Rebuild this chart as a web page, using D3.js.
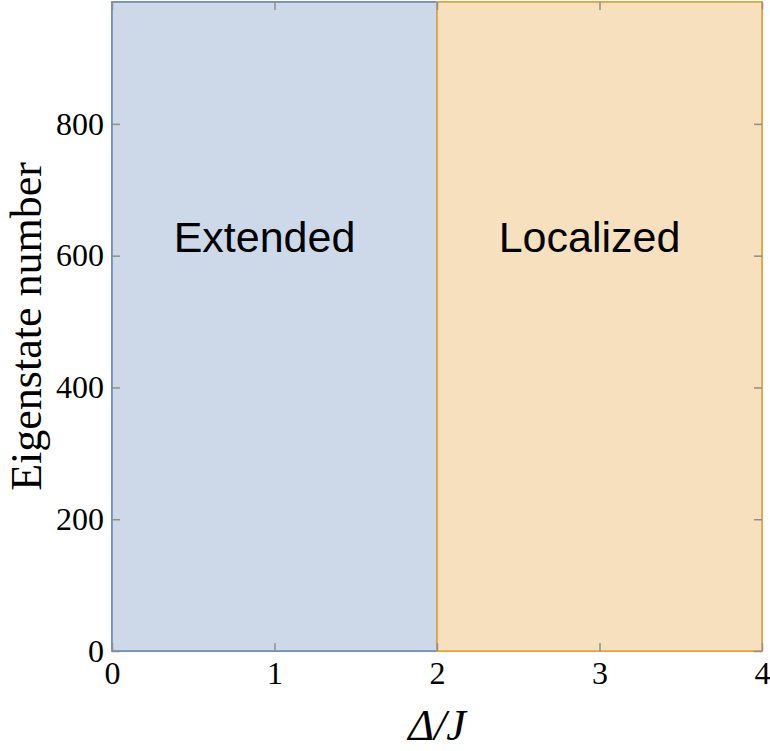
<!DOCTYPE html>
<html>
<head>
<meta charset="utf-8">
<script src="https://cdn.jsdelivr.net/npm/d3@7"></script>
<style>
  body { margin: 0; background: #fff; }
  .tick-label { font-family: "Liberation Serif", "Times New Roman", serif; font-size: 32px; }
</style>
</head>
<body>
<svg id="chart" width="770" height="751"></svg>
<script>
// data
var regionNames = ['Extended', 'Localized'];
var regionStart = [0, 2];
var regionEnd = [2, 4];
var eigenMax = 985;
var xTicks = [0, 1, 2, 3, 4];
var yTicks = [0, 200, 400, 600, 800];

var fills = ['#cdd9e9', '#f6e0bd'];
var strokes = ['#6a8bbd', '#e8a534'];

var margin = {top: 2, right: 8, bottom: 100, left: 112};
var W = 770, H = 751;
var w = W - margin.left - margin.right;
var h = H - margin.top - margin.bottom;

var svg = d3.select('#chart');
var g = svg.append('g').attr('transform', 'translate(' + margin.left + ',' + margin.top + ')');

var x = d3.scaleLinear().domain([0, 4]).range([0, w]);
var y = d3.scaleLinear().domain([0, eigenMax]).range([h, 0]);

// frame underneath
g.append('rect')
  .attr('width', w).attr('height', h)
  .attr('fill', 'none').attr('stroke', '#8a8a8a').attr('stroke-width', 1.5);

var regions = regionNames.map(function(n, i) {
  return {name: n, x0: regionStart[i], x1: regionEnd[i], i: i};
});

g.selectAll('.region')
  .data(regions)
  .enter()
  .append('rect')
    .classed('region', true)
    .attr('x', function(d) { return x(d.x0); })
    .attr('y', y(eigenMax))
    .attr('width', function(d) { return x(d.x1) - x(d.x0); })
    .attr('height', y(0) - y(eigenMax))
    .attr('fill', function(d) { return fills[d.i]; })
    .attr('stroke', function(d) { return strokes[d.i]; })
    .attr('stroke-width', 1.6);

// labels sit a little left of each region's middle, as in the original
g.selectAll('.region-label')
  .data(regions)
  .enter()
  .append('text')
    .attr('x', function(d) { return x((d.x0 + d.x1) / 2) - 10; })
    .attr('y', 250)
    .attr('text-anchor', 'middle')
    .style('font-family', '"Liberation Sans", Arial, sans-serif')
    .style('font-size', '43px')
    .attr('fill', '#000')
    .text(function(d) { return d.name; });

// axes: ticks inside the frame on all four sides
var tickLen = 8;
var tickStyle = function(sel) {
  sel.select('.domain').remove();
  sel.selectAll('.tick line').attr('stroke', '#8f8f8f').attr('stroke-width', 1.5);
};

g.append('g')
  .attr('transform', 'translate(0,' + h + ')')
  .call(d3.axisBottom(x).tickValues(xTicks).tickSizeInner(-tickLen).tickSizeOuter(0).tickPadding(10).tickFormat(d3.format('d')))
  .call(tickStyle)
  .selectAll('text').attr('class', 'tick-label').attr('fill', '#000');

g.append('g')
  .call(d3.axisTop(x).tickValues(xTicks).tickSizeInner(-tickLen).tickSizeOuter(0).tickFormat(''))
  .call(tickStyle);

g.append('g')
  .call(d3.axisLeft(y).tickValues(yTicks).tickSizeInner(-tickLen).tickSizeOuter(0).tickPadding(8).tickFormat(d3.format('d')))
  .call(tickStyle)
  .selectAll('text').attr('class', 'tick-label').attr('fill', '#000');

g.append('g')
  .attr('transform', 'translate(' + w + ',0)')
  .call(d3.axisRight(y).tickValues(yTicks).tickSizeInner(-tickLen).tickSizeOuter(0).tickFormat(''))
  .call(tickStyle);

// axis titles
svg.append('text')
  .attr('x', margin.left + w / 2)
  .attr('y', 740)
  .attr('text-anchor', 'middle')
  .style('font-family', '"Liberation Serif", "Times New Roman", serif')
  .style('font-style', 'italic')
  .style('font-size', '44px')
  .text('\u0394/J');

svg.append('text')
  .attr('transform', 'translate(41,' + (margin.top + h / 2) + ') rotate(-90)')
  .attr('text-anchor', 'middle')
  .style('font-family', '"Liberation Serif", "Times New Roman", serif')
  .style('font-size', '44px')
  .text('Eigenstate number');
</script>
</body>
</html>
